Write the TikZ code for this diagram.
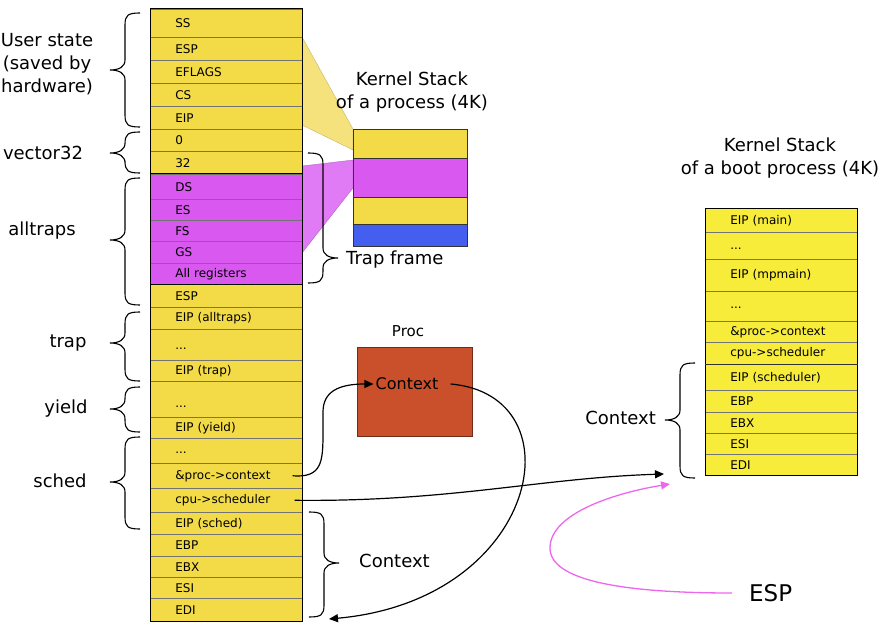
\documentclass[tikz,border=0pt]{standalone}
\usepackage{fontspec}
\setmainfont{DejaVu Sans}
\usetikzlibrary{arrows.meta}
\definecolor{ylw}{RGB}{242,219,70}
\definecolor{ylwb}{RGB}{247,236,58}
\definecolor{mag}{RGB}{216,88,240}
\definecolor{blu}{RGB}{68,94,240}
\definecolor{procc}{RGB}{201,80,43}
\definecolor{tylw}{RGB}{246,226,124}
\definecolor{tmag}{RGB}{224,122,245}
\definecolor{pinkc}{RGB}{238,102,238}
\tikzset{
  row/.style={draw=black!55, line width=0.6pt, rectangle, anchor=north west,
    minimum width=152pt, text width=102pt, inner xsep=25pt, inner ysep=0pt,
    align=left, font=\fontsize{12}{14}\selectfont},
  mrow/.style={draw=black!80, line width=0.8pt, rectangle, anchor=north west,
    minimum width=114pt, inner sep=0pt},
  big/.style={font=\fontsize{18}{23}\selectfont, inner sep=0pt},
  brc/.style={draw=black, line width=1.1pt},
  arr/.style={draw=black, line width=1.2pt, -{Triangle[length=9pt,width=8pt]}},
  parr/.style={draw=pinkc, line width=1.3pt, -{Triangle[length=9pt,width=8pt]}},
}
\newcommand\stackrow[6]{\node[row,fill=#6,minimum height=#4pt-#3pt] (#1) at (#2,#3) {#5};}
\newcommand\lowdots[1]{\smash{\raisebox{-#1pt}{...}}}
% brace: xend, ytop, ybot, ytip, direction (+1 tip to right, -1 tip to left)
\newcommand\bracedraw[5]{%
  \draw[brc] ({#1},{#2}) .. controls ({#1+(#5)*12},{#2}) and ({#1+(#5)*15},{#2+2}) .. ({#1+(#5)*15},{#2+12})
    -- ({#1+(#5)*15},{#4-10}) .. controls ({#1+(#5)*15},{#4-3}) and ({#1+(#5)*21},{#4}) .. ({#1+(#5)*30},{#4})
    .. controls ({#1+(#5)*21},{#4}) and ({#1+(#5)*15},{#4+3}) .. ({#1+(#5)*15},{#4+10})
    -- ({#1+(#5)*15},{#3-12}) .. controls ({#1+(#5)*15},{#3-2}) and ({#1+(#5)*12},{#3}) .. ({#1},{#3});}
\begin{document}
\begin{tikzpicture}[x=1pt,y=-1pt]
\useasboundingbox (0,0) rectangle (893,636);
% trapezoids
\fill[tylw, draw=tylw!75!black, line width=0.3pt] (302,37) -- (353,129) -- (353,150) -- (302,125) -- cycle;
\fill[tmag, draw=tmag!75!black, line width=0.3pt] (302,166) -- (353,160) -- (353,188) -- (302,253) -- cycle;
% left stack
\stackrow{ss}{150}{9}{37}{SS}{ylw}
\stackrow{espa}{150}{37}{60}{ESP}{ylw}
\stackrow{efl}{150}{60}{83}{EFLAGS}{ylw}
\stackrow{csr}{150}{83}{106}{CS}{ylw}
\stackrow{eipa}{150}{106}{129}{EIP}{ylw}
\stackrow{zero}{150}{129}{151}{0}{ylw}
\stackrow{vtt}{150}{151}{174}{32}{ylw}
\stackrow{ds}{150}{174}{199}{DS}{mag}
\stackrow{es}{150}{199}{220}{ES}{mag}
\stackrow{fs}{150}{220}{241}{FS}{mag}
\stackrow{gs}{150}{241}{263}{GS}{mag}
\stackrow{allr}{150}{263}{284}{All registers}{mag}
\stackrow{espb}{150}{284}{307}{ESP}{ylw}
\stackrow{eipal}{150}{307}{329}{EIP (alltraps)}{ylw}
\stackrow{dta}{150}{329}{360}{\lowdots{4.5}}{ylw}
\stackrow{eipt}{150}{360}{381}{EIP (trap)}{ylw}
\stackrow{dtb}{150}{381}{417}{\lowdots{8}}{ylw}
\stackrow{eipy}{150}{417}{438}{EIP (yield)}{ylw}
\stackrow{dtc}{150}{438}{463}{\lowdots{2.5}}{ylw}
\stackrow{pc}{150}{463}{488}{\&proc->context}{ylw}
\stackrow{csch}{150}{488}{512}{cpu->scheduler}{ylw}
\stackrow{eips}{150}{512}{534}{EIP (sched)}{ylw}
\stackrow{ebp}{150}{534}{556}{EBP}{ylw}
\stackrow{ebx}{150}{556}{577}{EBX}{ylw}
\stackrow{esi}{150}{577}{598}{ESI}{ylw}
\stackrow{edi}{150}{598}{621}{EDI}{ylw}
\draw[line width=1pt] (ss.north west) rectangle (edi.south east);
\draw[line width=1pt] (ds.north west) rectangle (allr.south east);
% left labels and braces
\node[big, align=center] (ustate) at (47,64) {User state\\(saved by\\hardware)};
\node[big] (lv32) at (43,153) {vector32};
\node[big] (lall) at (42,231) {alltraps};
\node[big] (ltrap) at (68,343) {trap};
\node[big] (lyield) at (66,409) {yield};
\node[big] (lsched) at (60,481) {sched};
\bracedraw{140}{13}{127}{70}{-1}
\bracedraw{140}{132}{173}{153}{-1}
\bracedraw{140}{178}{305}{240}{-1}
\bracedraw{140}{312}{381}{343}{-1}
\bracedraw{140}{387}{432}{409}{-1}
\bracedraw{140}{437}{529}{482}{-1}
% middle stack
\node[big, align=center] (ksp) at (412,92) {Kernel Stack\\of a process (4K)};
\node[mrow, fill=ylw, minimum height=29pt] (msa) at (353,129) {};
\node[mrow, fill=mag, minimum height=39pt] (msb) at (353,158) {};
\node[mrow, fill=ylw, minimum height=27pt] (msc) at (353,197) {};
\node[mrow, fill=blu, minimum height=22pt] (msd) at (353,224) {};
\bracedraw{308}{153}{283}{258}{1}
\node[big, anchor=west] (trapf) at (346,260) {Trap frame};
% proc
\node[font=\fontsize{15}{18}\selectfont, inner sep=0pt] (procl) at (408,331) {Proc};
\node[draw=procc!55!black, line width=0.8pt, fill=procc, minimum width=115pt, minimum height=89pt, anchor=north west, inner sep=0pt] (proc) at (357,347) {};
\node[font=\fontsize{16}{19}\selectfont, inner sep=2pt] (ctx) at (407,384) {Context};
% bottom context brace
\bracedraw{309}{512}{617}{563}{1}
\node[big, anchor=west] (ctxl) at (359,561) {Context};
\coordinate (ctxend) at (329,619);
% right stack
\node[big, align=center] (ksb) at (780,158) {Kernel Stack\\of a boot process (4K)};
\stackrow{rmain}{705}{208}{232}{EIP (main)}{ylwb}
\stackrow{rda}{705}{232}{259}{\lowdots{3.5}}{ylwb}
\stackrow{rmp}{705}{259}{291}{EIP (mpmain)}{ylwb}
\stackrow{rdb}{705}{291}{321}{\lowdots{2}}{ylwb}
\stackrow{rpc}{705}{321}{342}{\&proc->context}{ylwb}
\stackrow{rcs}{705}{342}{364}{cpu->scheduler}{ylwb}
\stackrow{reips}{705}{364}{390}{EIP (scheduler)}{ylwb}
\stackrow{rebp}{705}{390}{412}{EBP}{ylwb}
\stackrow{rebx}{705}{412}{433}{EBX}{ylwb}
\stackrow{resi}{705}{433}{454}{ESI}{ylwb}
\stackrow{redi}{705}{454}{475}{EDI}{ylwb}
\draw[line width=0.9pt] (rmain.north west) rectangle (redi.south east);
\draw[line width=1.4pt, black!80] (rcs.south west) -- (rcs.south east);
\bracedraw{695}{363}{478}{420}{-1}
\node[big, anchor=east] (rctxl) at (656,418) {Context};
\coordinate (rctx) at (664,474);
\coordinate (rctxb) at (670,484);
% ESP
\node[font=\fontsize{23}{27}\selectfont, inner sep=0pt, anchor=west] (espl) at (749,593) {ESP};
% connectors
\draw[arr] ([xshift=-10pt]pc.east) .. controls (322,478) and (323,462) .. (323,432)
  -- (323,412) .. controls (323,392) and (338,384) .. (ctx.west);
\draw[arr] ([xshift=10pt]ctx.east) .. controls (580,395) and (540,600) .. (ctxend);
\draw[arr] ([xshift=-8pt]csch.east) .. controls (450,502) and (540,478) .. (rctx);
\draw[parr] ([xshift=-17pt]espl.west) .. controls (620,593) and (550,580) .. (550,548)
  .. controls (550,512) and (620,492) .. (rctxb);
\end{tikzpicture}
\end{document}
